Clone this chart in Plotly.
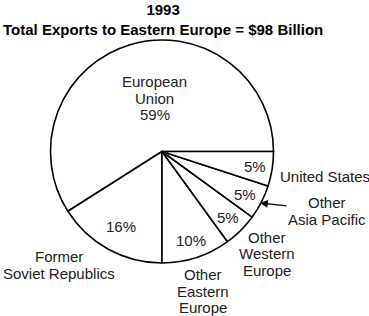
import math
import plotly.graph_objects as go

W, H = 369, 316

# ---- data ----
regions = ["European Union", "Former Soviet Republics", "Other Eastern Europe",
           "Other Western Europe", "Other Asia Pacific", "United States"]
shares = [59, 16, 10, 5, 5, 5]
title_lines = ["1993", "Total Exports to Eastern Europe = $98 Billion"]
outer_labels = {
    "United States": ["United States"],
    "Other Asia Pacific": ["Other", "Asia Pacific"],
    "Other Western Europe": ["Other", "Western", "Europe"],
    "Other Eastern Europe": ["Other", "Eastern", "Europe"],
    "Former Soviet Republics": ["Former", "Soviet Republics"],
}

# ---- geometry (pixels) ----
CX, CY, R = 162, 151.5, 111.5
LINE = 16.8
total = sum(shares)
# first slice (EU) runs counterclockwise from 3 o'clock
START_DEG = 0.0
# plotly: with counterclockwise direction, first slice lies clockwise of `rotation`
rotation = 90 - 360 * shares[0] / total


def px(x):
    return x / W


def py(y):
    return 1 - y / H


fig = go.Figure(go.Pie(
    labels=regions,
    values=shares,
    sort=False,
    direction="counterclockwise",
    rotation=rotation,
    textinfo="none",
    hoverinfo="label+percent",
    marker=dict(colors=["white"] * len(regions), line=dict(color="black", width=1.6)),
    domain=dict(x=[px(CX - R), px(CX + R)], y=[py(CY + R), py(CY - R)]),
    showlegend=False,
))

font_lbl = dict(family="Liberation Sans, Arial, sans-serif", size=15, color="#222")
ann = []


def add_lines(lines, x, ymid, xanchor="center"):
    n = len(lines)
    for i, t in enumerate(lines):
        y = ymid + (i - (n - 1) / 2) * LINE
        ann.append(dict(x=px(x), y=py(y), text=t, showarrow=False, font=font_lbl,
                        xanchor=xanchor, yanchor="middle"))


# percent labels placed at slice mid-angles
cum = 0
pct_r = {"European Union": 0.33, "Former Soviet Republics": 0.77}
for name, v in zip(regions, shares):
    mid = START_DEG + (cum + v / 2) / total * 360
    cum += v
    rf = pct_r.get(name, 0.84)
    x = CX + rf * R * math.cos(math.radians(mid))
    y = CY - rf * R * math.sin(math.radians(mid))
    if name == "European Union":
        add_lines(["European", "Union", f"{v}%"], x + 3, y - 18)
    else:
        add_lines([f"{v}%"], x, y)

# outside labels
out_pos = {
    "United States": (278, 176, "left"),
    "Other Asia Pacific": (327, 211, "center"),
    "Other Western Europe": (267, 254, "center"),
    "Other Eastern Europe": (203, 291, "center"),
    "Former Soviet Republics": (59, 265, "center"),
}
for name, (x, y, xa) in out_pos.items():
    add_lines(outer_labels[name], x, y, xa)

# arrow to Other Asia Pacific slice
ann.append(dict(x=px(260), y=py(203), ax=28, ay=3, axref="pixel", ayref="pixel",
                text="", showarrow=True,
                arrowhead=2, arrowsize=1.3, arrowwidth=1.2, arrowcolor="black"))

# title (two lines in one text block)
ann.append(dict(x=px(163), y=py(-1), text="<br>".join(f"<b>{t}</b>" for t in title_lines),
                showarrow=False,
                font=dict(family="Liberation Sans, Arial, sans-serif", size=15, color="black"),
                xanchor="center", yanchor="top", align="center"))

for a in ann:
    a.setdefault("xref", "paper")
    a.setdefault("yref", "paper")

fig.update_layout(
    width=W, height=H,
    margin=dict(l=0, r=0, t=0, b=0),
    paper_bgcolor="white", plot_bgcolor="white",
    annotations=ann,
)

fig.write_html("out.html", config={"displayModeBar": False})
